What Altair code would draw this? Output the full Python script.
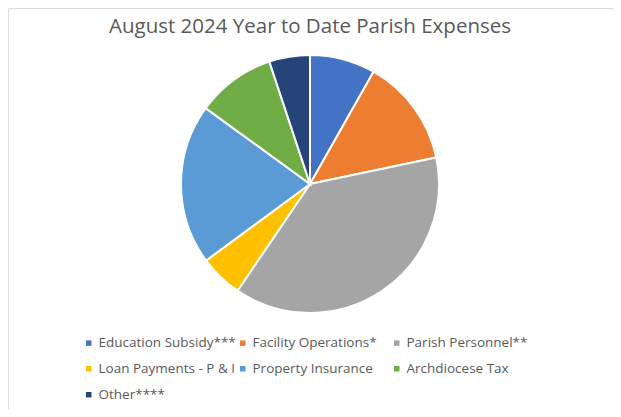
import altair as alt
import pandas as pd

categories = ["Education Subsidy***", "Facility Operations*", "Parish Personnel**",
              "Loan Payments - P & I", "Property Insurance", "Archdiocese Tax", "Other****"]
values = [8.2, 13.5, 37.8, 5.4, 20.1, 9.9, 5.1]
colors = ["#4472C4", "#ED7D31", "#A5A5A5", "#FFC000", "#5B9BD5", "#70AD47", "#264478"]
title_text = "August 2024 Year to Date Parish Expenses"

df = pd.DataFrame({"category": categories, "value": values, "order": list(range(len(categories)))})

FONT = "Open Sans"

pie = alt.Chart(df).mark_arc(stroke="white", strokeWidth=2, radius=129).encode(
    theta=alt.Theta("value:Q", stack=True),
    order=alt.Order("order:Q"),
    x=alt.value(302),
    y=alt.value(176),
    color=alt.Color(
        "category:N",
        scale=alt.Scale(domain=categories, range=colors),
        sort=categories,
        legend=alt.Legend(
            title=None, orient="none", legendX=74, legendY=328, columns=3,
            direction="horizontal",
            symbolType="square", symbolSize=30, symbolStrokeWidth=0,
            labelFont=FONT, labelFontSize=13.5, labelColor="#595959",
            columnPadding=-1.5, rowPadding=11, gridAlign="all", labelLimit=300,
            labelOffset=3,
        ),
    ),
)

title = alt.Chart(pd.DataFrame({"t": [title_text]})).mark_text(
    font=FONT, fontSize=20.5, color="#595959", baseline="middle", align="center"
).encode(text="t:N", x=alt.value(302), y=alt.value(19))

chart = alt.layer(pie, title).properties(
    width=605, height=401, padding=0, autosize=alt.AutoSizeParams(type="none")
).configure_view(stroke="#D9D9D9").configure(background="white")

chart.save("out.html", embed_options={"renderer": "svg", "actions": False})
